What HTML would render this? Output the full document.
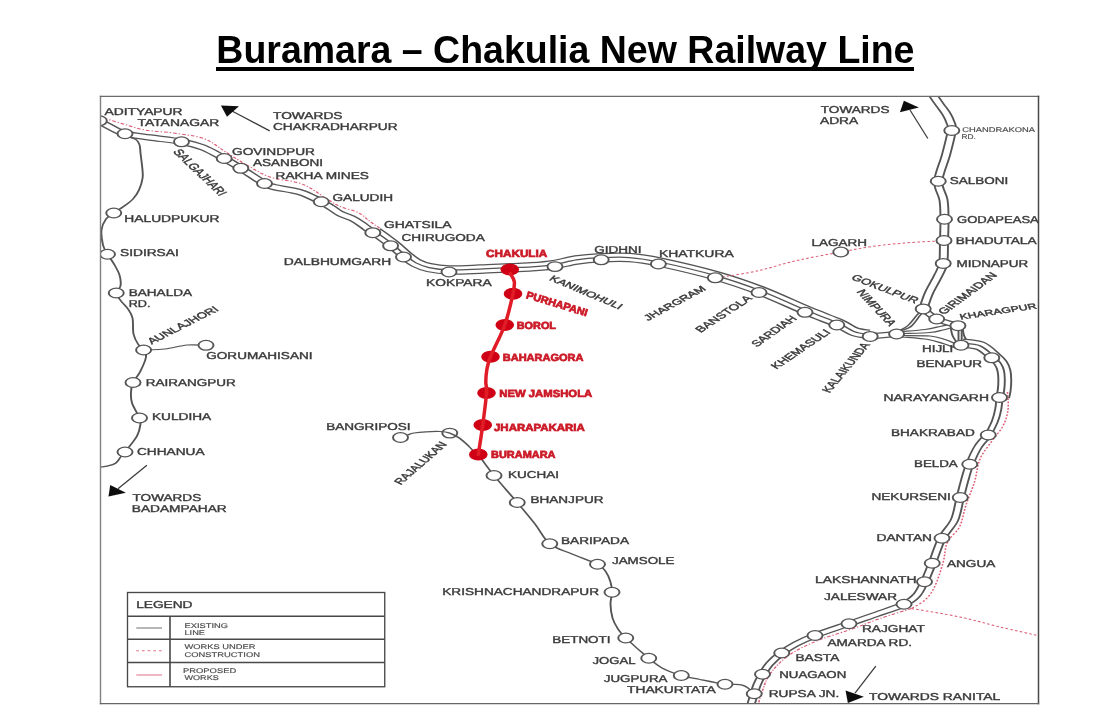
<!DOCTYPE html>
<html><head><meta charset="utf-8"><title>Buramara – Chakulia New Railway Line</title><style>
html,body{margin:0;padding:0;background:#fff;}
body{width:1105px;height:720px;overflow:hidden;position:relative;font-family:"Liberation Sans",Arial,sans-serif;}
#title{position:absolute;left:216.3px;top:27.6px;font-size:37.5px;line-height:42px;font-weight:bold;white-space:nowrap;color:#000;transform:scaleY(1.035);transform-origin:0 0;}
#ul{position:absolute;left:216.2px;top:67.1px;width:697.8px;height:3.9px;background:#000;}
</style></head><body>
<div id="title">Buramara – Chakulia New Railway Line</div>
<div id="ul"></div>
<svg id="map" width="1105" height="720" viewBox="0 0 1105 720" style="position:absolute;left:0;top:0">
<defs><filter id="bl" x="-2%" y="-2%" width="104%" height="104%"><feGaussianBlur stdDeviation="0.7"/></filter><clipPath id="cp"><rect x="100.5" y="96.3" width="938" height="607.4"/></clipPath></defs>
<g filter="url(#bl)">
<g clip-path="url(#cp)">
<g transform="scale(1.55,1)" fill="none" stroke-linejoin="round">
<path d="M67.10,118.50 C67.74,118.75 68.71,119.00 70.97,120.00 C73.23,121.00 76.88,122.83 80.65,124.50 C84.41,126.17 87.90,128.50 93.55,130.00 C99.19,131.50 108.06,132.00 114.52,133.50 C120.97,135.00 127.15,136.00 132.26,139.00 C137.37,142.00 140.86,147.33 145.16,151.50 C149.46,155.67 153.23,159.75 158.06,164.00 C162.90,168.25 168.06,173.67 174.19,177.00 C180.32,180.33 188.71,180.33 194.84,184.00 C200.97,187.67 206.88,195.25 210.97,199.00 C215.05,202.75 216.02,204.25 219.35,206.50 C222.69,208.75 227.74,210.00 230.97,212.50 C234.19,215.00 236.40,218.92 238.71,221.50 C241.02,224.08 243.82,226.92 244.84,228.00" stroke="#dd5a72" stroke-width="1.0" stroke-dasharray="2.4 1.3 0.9 1.3"/>
<path d="M581.03,330.00 C581.83,329.25 584.04,328.00 585.81,325.50 C587.57,323.00 590.22,317.42 591.61,315.00 C593.01,312.58 593.76,311.67 594.19,311.00" stroke="#555555" stroke-width="1.25" />
<path d="M581.68,330.50 C582.69,329.83 585.76,329.00 587.74,326.50 C589.72,324.00 592.26,317.92 593.55,315.50 C594.84,313.08 595.16,312.58 595.48,312.00" stroke="#555555" stroke-width="1.25" />
<path d="M582.32,331.50 C584.73,331.17 592.75,330.33 596.77,329.50 C600.80,328.67 603.55,327.50 606.45,326.50 C609.35,325.50 612.90,324.00 614.19,323.50" stroke="#555555" stroke-width="1.25" />
<path d="M582.97,333.50 C585.81,333.33 595.76,333.08 600.00,332.50 C604.24,331.92 606.02,330.83 608.39,330.00 C610.75,329.17 613.23,327.92 614.19,327.50" stroke="#555555" stroke-width="1.25" />
<path d="M582.97,335.50 C585.81,335.58 595.55,335.33 600.00,336.00 C604.45,336.67 606.99,338.25 609.68,339.50 C612.37,340.75 615.05,342.83 616.13,343.50" stroke="#555555" stroke-width="1.25" />
<path d="M582.32,337.00 C585.05,337.42 594.37,338.42 598.71,339.50 C603.05,340.58 605.59,342.17 608.39,343.50 C611.18,344.83 614.30,346.83 615.48,347.50" stroke="#555555" stroke-width="1.25" />
<path d="M613.42,328.50 C613.60,329.67 613.96,333.33 614.52,335.50 C615.08,337.67 616.40,340.50 616.77,341.50" stroke="#555555" stroke-width="1.25" />
<path d="M618.39,330.00 L618.39,341.00" stroke="#555555" stroke-width="1.25" />
<path d="M620.45,330.00 L620.45,341.00" stroke="#555555" stroke-width="1.25" />
<path d="M242.07,231.34 C243.99,233.53 250.29,240.43 253.60,244.49 C256.91,248.55 259.47,252.64 261.93,255.70 C264.40,258.76 265.91,260.90 268.38,262.88 C270.86,264.85 273.21,266.36 276.78,267.54 C280.35,268.71 284.32,269.67 289.78,269.93 C295.25,270.20 303.05,269.50 309.56,269.13 C316.07,268.77 323.25,268.12 328.83,267.73 C334.40,267.35 338.21,267.37 343.00,266.84 C347.79,266.32 352.79,265.73 357.59,264.59 C362.39,263.44 366.77,261.12 371.80,259.98 C376.82,258.84 382.02,258.14 387.72,257.74 C393.43,257.33 399.76,256.83 406.04,257.54 C412.32,258.26 416.04,258.97 425.42,262.03 C434.80,265.09 451.43,271.12 462.32,275.90 C473.20,280.69 481.04,284.95 490.74,290.72 C500.43,296.50 512.10,305.13 520.48,310.56 C528.86,315.99 535.90,319.77 541.04,323.29 C546.18,326.81 548.14,329.88 551.34,331.70 C554.54,333.52 558.77,333.79 560.25,334.21" stroke="#555555" stroke-width="9.55"/>
<path d="M242.07,231.34 C243.99,233.53 250.29,240.43 253.60,244.49 C256.91,248.55 259.47,252.64 261.93,255.70 C264.40,258.76 265.91,260.90 268.38,262.88 C270.86,264.85 273.21,266.36 276.78,267.54 C280.35,268.71 284.32,269.67 289.78,269.93 C295.25,270.20 303.05,269.50 309.56,269.13 C316.07,268.77 323.25,268.12 328.83,267.73 C334.40,267.35 338.21,267.37 343.00,266.84 C347.79,266.32 352.79,265.73 357.59,264.59 C362.39,263.44 366.77,261.12 371.80,259.98 C376.82,258.84 382.02,258.14 387.72,257.74 C393.43,257.33 399.76,256.83 406.04,257.54 C412.32,258.26 416.04,258.97 425.42,262.03 C434.80,265.09 451.43,271.12 462.32,275.90 C473.20,280.69 481.04,284.95 490.74,290.72 C500.43,296.50 512.10,305.13 520.48,310.56 C528.86,315.99 535.90,319.77 541.04,323.29 C546.18,326.81 548.14,329.88 551.34,331.70 C554.54,333.52 558.77,333.79 560.25,334.21" stroke="#fff" stroke-width="7.050000000000001"/>
<path d="M242.07,231.34 C243.99,233.53 250.29,240.43 253.60,244.49 C256.91,248.55 259.47,252.64 261.93,255.70 C264.40,258.76 265.91,260.90 268.38,262.88 C270.86,264.85 273.21,266.36 276.78,267.54 C280.35,268.71 284.32,269.67 289.78,269.93 C295.25,270.20 303.05,269.50 309.56,269.13 C316.07,268.77 323.25,268.12 328.83,267.73 C334.40,267.35 338.21,267.37 343.00,266.84 C347.79,266.32 352.79,265.73 357.59,264.59 C362.39,263.44 366.77,261.12 371.80,259.98 C376.82,258.84 382.02,258.14 387.72,257.74 C393.43,257.33 399.76,256.83 406.04,257.54 C412.32,258.26 416.04,258.97 425.42,262.03 C434.80,265.09 451.43,271.12 462.32,275.90 C473.20,280.69 481.04,284.95 490.74,290.72 C500.43,296.50 512.10,305.13 520.48,310.56 C528.86,315.99 535.90,319.77 541.04,323.29 C546.18,326.81 548.14,329.88 551.34,331.70 C554.54,333.52 558.77,333.79 560.25,334.21" stroke="#555555" stroke-width="1.25"/>
<path d="M61.94,117.00 C62.29,117.63 62.34,118.97 64.06,120.80 C65.78,122.63 69.49,125.84 72.26,128.00 C75.02,130.16 76.56,132.17 80.65,133.75 C84.73,135.33 90.70,136.16 96.77,137.50 C102.85,138.84 111.40,140.13 117.10,141.80 C122.80,143.47 126.38,144.72 130.97,147.50 C135.56,150.28 140.58,155.03 144.65,158.50 C148.71,161.97 151.02,164.13 155.35,168.30 C159.69,172.47 167.02,180.35 170.65,183.50 C174.27,186.65 174.46,186.15 177.10,187.20 C179.73,188.25 183.33,188.77 186.45,189.80 C189.57,190.83 192.34,191.41 195.81,193.40 C199.27,195.39 204.30,199.40 207.26,201.75 C210.22,204.10 211.53,205.54 213.55,207.50 C215.56,209.46 217.10,211.70 219.35,213.50 C221.61,215.30 224.78,216.52 227.10,218.30 C229.41,220.08 230.99,221.80 233.23,224.20 C235.46,226.60 239.30,231.28 240.52,232.70" stroke="#555555" stroke-width="6.45"/>
<path d="M61.94,117.00 C62.29,117.63 62.34,118.97 64.06,120.80 C65.78,122.63 69.49,125.84 72.26,128.00 C75.02,130.16 76.56,132.17 80.65,133.75 C84.73,135.33 90.70,136.16 96.77,137.50 C102.85,138.84 111.40,140.13 117.10,141.80 C122.80,143.47 126.38,144.72 130.97,147.50 C135.56,150.28 140.58,155.03 144.65,158.50 C148.71,161.97 151.02,164.13 155.35,168.30 C159.69,172.47 167.02,180.35 170.65,183.50 C174.27,186.65 174.46,186.15 177.10,187.20 C179.73,188.25 183.33,188.77 186.45,189.80 C189.57,190.83 192.34,191.41 195.81,193.40 C199.27,195.39 204.30,199.40 207.26,201.75 C210.22,204.10 211.53,205.54 213.55,207.50 C215.56,209.46 217.10,211.70 219.35,213.50 C221.61,215.30 224.78,216.52 227.10,218.30 C229.41,220.08 230.99,221.80 233.23,224.20 C235.46,226.60 239.30,231.28 240.52,232.70" stroke="#fff" stroke-width="3.95"/>
<path d="M561.42,336.40 L578.45,334.00" stroke="#555555" stroke-width="6.25"/>
<path d="M561.42,336.40 L578.45,334.00" stroke="#fff" stroke-width="3.75"/>
<path d="M601.48,94.00 C602.31,95.83 604.96,101.75 606.45,105.00 C607.95,108.25 609.34,110.67 610.45,113.50 C611.56,116.33 612.49,119.17 613.10,122.00 C613.70,124.83 614.53,125.00 614.06,130.50 C613.60,136.00 611.78,146.54 610.32,155.00 C608.87,163.46 605.59,173.75 605.32,181.25 C605.05,188.75 608.04,193.67 608.71,200.00 C609.38,206.33 609.30,212.50 609.35,219.25 C609.41,226.00 609.17,233.14 609.03,240.50 C608.89,247.86 609.16,257.48 608.52,263.40 C607.87,269.32 606.69,271.07 605.16,276.00 C603.63,280.93 600.95,287.52 599.35,293.00 C597.76,298.48 596.24,306.25 595.61,308.90" stroke="#555555" stroke-width="6.45"/>
<path d="M601.48,94.00 C602.31,95.83 604.96,101.75 606.45,105.00 C607.95,108.25 609.34,110.67 610.45,113.50 C611.56,116.33 612.49,119.17 613.10,122.00 C613.70,124.83 614.53,125.00 614.06,130.50 C613.60,136.00 611.78,146.54 610.32,155.00 C608.87,163.46 605.59,173.75 605.32,181.25 C605.05,188.75 608.04,193.67 608.71,200.00 C609.38,206.33 609.30,212.50 609.35,219.25 C609.41,226.00 609.17,233.14 609.03,240.50 C608.89,247.86 609.16,257.48 608.52,263.40 C607.87,269.32 606.69,271.07 605.16,276.00 C603.63,280.93 600.95,287.52 599.35,293.00 C597.76,298.48 596.24,306.25 595.61,308.90" stroke="#fff" stroke-width="3.95"/>
<path d="M595.61,308.90 C597.06,310.58 600.59,316.20 604.32,319.00 C608.05,321.80 615.72,324.58 618.00,325.70" stroke="#555555" stroke-width="5.65"/>
<path d="M595.61,308.90 C597.06,310.58 600.59,316.20 604.32,319.00 C608.05,321.80 615.72,324.58 618.00,325.70" stroke="#fff" stroke-width="3.1500000000000004"/>
<path d="M621.16,329.00 C621.29,330.08 621.43,333.50 621.94,335.50 C622.44,337.50 623.12,339.67 624.19,341.00 C625.27,342.33 627.69,343.08 628.39,343.50" stroke="#555555" stroke-width="1.25" />
<path d="M620.43,343.18 C622.43,343.62 628.88,343.62 632.40,345.85 C635.91,348.08 639.31,353.66 641.52,356.55 C643.73,359.43 644.60,360.81 645.64,363.17 C646.67,365.52 647.29,367.88 647.72,370.69 C648.16,373.49 648.24,376.74 648.26,379.99 C648.29,383.23 648.10,387.20 647.87,390.16 C647.64,393.12 647.05,396.50 646.89,397.76" stroke="#555555" stroke-width="9.55"/>
<path d="M620.43,343.18 C622.43,343.62 628.88,343.62 632.40,345.85 C635.91,348.08 639.31,353.66 641.52,356.55 C643.73,359.43 644.60,360.81 645.64,363.17 C646.67,365.52 647.29,367.88 647.72,370.69 C648.16,373.49 648.24,376.74 648.26,379.99 C648.29,383.23 648.10,387.20 647.87,390.16 C647.64,393.12 647.05,396.50 646.89,397.76" stroke="#fff" stroke-width="7.050000000000001"/>
<path d="M620.43,343.18 C622.43,343.62 628.88,343.62 632.40,345.85 C635.91,348.08 639.31,353.66 641.52,356.55 C643.73,359.43 644.60,360.81 645.64,363.17 C646.67,365.52 647.29,367.88 647.72,370.69 C648.16,373.49 648.24,376.74 648.26,379.99 C648.29,383.23 648.10,387.20 647.87,390.16 C647.64,393.12 647.05,396.50 646.89,397.76" stroke="#555555" stroke-width="1.25"/>
<path d="M644.84,397.50 C644.71,399.42 644.55,405.08 644.06,409.00 C643.58,412.92 643.02,416.67 641.94,421.00 C640.85,425.33 638.31,432.67 637.58,435.00" stroke="#555555" stroke-width="5.15"/>
<path d="M644.84,397.50 C644.71,399.42 644.55,405.08 644.06,409.00 C643.58,412.92 643.02,416.67 641.94,421.00 C640.85,425.33 638.31,432.67 637.58,435.00" stroke="#fff" stroke-width="2.65"/>
<path d="M637.58,435.00 C636.48,437.00 632.96,442.12 630.97,447.00 C628.98,451.88 627.10,458.58 625.65,464.25 C624.19,469.92 623.28,475.46 622.26,481.00 C621.24,486.54 620.59,491.00 619.52,497.50 C618.44,504.00 617.77,513.21 615.81,520.00 C613.84,526.79 610.13,531.04 607.74,538.25 C605.35,545.46 603.33,556.00 601.45,563.25 C599.57,570.50 598.15,576.38 596.45,581.75 C594.76,587.12 593.49,591.75 591.29,595.50 C589.09,599.25 587.58,601.08 583.23,604.25 C578.87,607.42 571.08,611.25 565.16,614.50 C559.25,617.75 554.30,620.25 547.74,623.75 C541.18,627.25 531.51,632.12 525.81,635.50 C520.11,638.88 517.12,641.08 513.55,644.00 C509.97,646.92 507.20,649.67 504.35,653.00 C501.51,656.33 498.52,660.46 496.45,664.00 C494.38,667.54 493.28,670.75 491.94,674.25 C490.59,677.75 489.27,681.75 488.39,685.00 C487.50,688.25 487.31,690.25 486.61,693.75 C485.91,697.25 484.60,703.96 484.19,706.00" stroke="#555555" stroke-width="5.95"/>
<path d="M637.58,435.00 C636.48,437.00 632.96,442.12 630.97,447.00 C628.98,451.88 627.10,458.58 625.65,464.25 C624.19,469.92 623.28,475.46 622.26,481.00 C621.24,486.54 620.59,491.00 619.52,497.50 C618.44,504.00 617.77,513.21 615.81,520.00 C613.84,526.79 610.13,531.04 607.74,538.25 C605.35,545.46 603.33,556.00 601.45,563.25 C599.57,570.50 598.15,576.38 596.45,581.75 C594.76,587.12 593.49,591.75 591.29,595.50 C589.09,599.25 587.58,601.08 583.23,604.25 C578.87,607.42 571.08,611.25 565.16,614.50 C559.25,617.75 554.30,620.25 547.74,623.75 C541.18,627.25 531.51,632.12 525.81,635.50 C520.11,638.88 517.12,641.08 513.55,644.00 C509.97,646.92 507.20,649.67 504.35,653.00 C501.51,656.33 498.52,660.46 496.45,664.00 C494.38,667.54 493.28,670.75 491.94,674.25 C490.59,677.75 489.27,681.75 488.39,685.00 C487.50,688.25 487.31,690.25 486.61,693.75 C485.91,697.25 484.60,703.96 484.19,706.00" stroke="#fff" stroke-width="3.45"/>
<path d="M650.00,392.00 C650.05,395.00 650.81,404.33 650.32,410.00 C649.84,415.67 648.82,420.83 647.10,426.00 C645.38,431.17 642.47,435.50 640.00,441.00 C637.53,446.50 634.14,452.17 632.26,459.00 C630.38,465.83 630.22,474.33 628.71,482.00 C627.20,489.67 624.84,497.50 623.23,505.00 C621.61,512.50 621.02,520.83 619.03,527.00 C617.04,533.17 613.06,536.00 611.29,542.00 C609.52,548.00 609.78,555.50 608.39,563.00 C606.99,570.50 604.84,580.83 602.90,587.00 C600.97,593.17 599.25,596.42 596.77,600.00 C594.30,603.58 589.52,607.08 588.06,608.50" stroke="#dd5a72" stroke-width="1.0" stroke-dasharray="1.7 1.5"/>
<path d="M588.06,608.50 C593.28,609.92 609.84,613.92 619.35,617.00 C628.87,620.08 636.56,623.83 645.16,627.00 C653.76,630.17 666.67,634.50 670.97,636.00" stroke="#dd5a72" stroke-width="1.0" stroke-dasharray="1.7 1.5"/>
<path d="M588.06,608.50 C584.68,610.17 574.14,615.08 567.74,618.50 C561.34,621.92 556.34,625.33 549.68,629.00 C543.01,632.67 534.48,636.17 527.74,640.50 C521.00,644.83 514.39,649.42 509.23,655.00 C504.06,660.58 499.82,667.33 496.77,674.00 C493.73,680.67 492.26,689.67 490.97,695.00 C489.68,700.33 489.35,704.17 489.03,706.00" stroke="#dd5a72" stroke-width="1.0" stroke-dasharray="2.4 1.3 0.9 1.3"/>
<path d="M465.81,277.00 C469.57,276.00 480.32,273.75 488.39,271.00 C496.45,268.25 505.19,263.67 514.19,260.50 C523.20,257.33 534.35,254.33 542.42,252.00 C550.48,249.67 555.67,248.00 562.58,246.50 C569.49,245.00 576.88,243.92 583.87,243.00 C590.86,242.08 601.08,241.33 604.52,241.00" stroke="#dd5a72" stroke-width="1.0" stroke-dasharray="1.7 1.5"/>
<path d="M84.65,137.70 C85.22,138.08 87.16,138.78 88.06,140.00 C88.97,141.22 89.62,142.67 90.06,145.00 C90.51,147.33 90.42,150.17 90.71,154.00 C91.00,157.83 91.59,164.00 91.81,168.00 C92.02,172.00 92.35,174.33 92.00,178.00 C91.65,181.67 90.71,186.50 89.68,190.00 C88.65,193.50 87.31,196.42 85.81,199.00 C84.30,201.58 82.72,203.17 80.65,205.50 C78.58,207.83 74.60,211.75 73.39,213.00" stroke="#555555" stroke-width="1.25" />
<path d="M73.39,213.00 C72.55,214.00 69.70,216.17 68.39,219.00 C67.07,221.83 65.81,225.67 65.48,230.00 C65.16,234.33 65.81,240.96 66.45,245.00 C67.10,249.04 68.17,251.08 69.35,254.25 C70.54,257.42 72.26,260.54 73.55,264.00 C74.84,267.46 76.40,271.33 77.10,275.00 C77.80,278.67 78.09,283.00 77.74,286.00 C77.39,289.00 74.95,290.50 75.00,293.00 C75.05,295.50 76.80,298.33 78.06,301.00 C79.33,303.67 81.34,306.17 82.58,309.00 C83.82,311.83 84.89,313.83 85.48,318.00 C86.08,322.17 85.54,329.67 86.13,334.00 C86.72,338.33 87.95,341.33 89.03,344.00 C90.12,346.67 92.04,349.00 92.65,350.00" stroke="#555555" stroke-width="1.25" />
<path d="M92.65,350.00 C94.95,349.83 101.78,349.83 106.45,349.00 C111.12,348.17 116.24,345.62 120.65,345.00 C125.05,344.38 130.86,345.25 132.90,345.30" stroke="#555555" stroke-width="1.25" />
<path d="M92.65,350.00 C92.90,351.17 94.58,353.33 94.19,357.00 C93.81,360.67 91.72,367.75 90.32,372.00 C88.92,376.25 86.77,379.17 85.81,382.50 C84.84,385.83 84.62,388.58 84.52,392.00 C84.41,395.42 84.25,398.67 85.16,403.00 C86.08,407.33 89.09,414.50 90.00,418.00 C90.91,421.50 90.91,421.00 90.65,424.00 C90.38,427.00 90.05,431.33 88.39,436.00 C86.72,440.67 82.37,448.58 80.65,452.00 C78.92,455.42 79.08,454.63 78.06,456.50 C77.05,458.37 76.11,461.58 74.58,463.20 C73.05,464.82 70.69,465.52 68.90,466.20 C67.12,466.88 64.71,467.12 63.87,467.30" stroke="#555555" stroke-width="1.25" />
<path d="M308.58,454.50 C310.27,458.00 314.52,467.50 318.71,475.50 C322.90,483.50 329.30,494.42 333.71,502.50 C338.12,510.58 341.67,517.12 345.16,524.00 C348.66,530.88 350.70,538.75 354.68,543.75 C358.66,548.75 363.90,550.58 369.03,554.00 C374.17,557.42 381.83,561.25 385.48,564.25 C389.14,567.25 389.57,569.04 390.97,572.00 C392.37,574.96 393.23,578.62 393.87,582.00 C394.52,585.38 394.84,588.58 394.84,592.25 C394.84,595.92 393.82,599.71 393.87,604.00 C393.92,608.29 394.35,613.83 395.16,618.00 C395.97,622.17 397.28,625.67 398.71,629.00 C400.13,632.33 400.40,633.12 403.71,638.00 C407.02,642.88 414.54,653.17 418.55,658.25 C422.55,663.33 424.25,665.62 427.74,668.50 C431.24,671.38 435.54,673.67 439.52,675.50 C443.49,677.33 446.91,678.04 451.61,679.50 C456.32,680.96 464.19,683.43 467.74,684.25 C471.29,685.07 471.05,684.26 472.90,684.40 C474.75,684.54 477.25,684.53 478.84,685.10 C480.43,685.67 481.16,686.36 482.45,687.80 C483.75,689.24 485.92,692.76 486.61,693.75" stroke="#555555" stroke-width="1.25" />
<circle cx="64.06" cy="120.8" r="4.85" fill="#fff" stroke="#555555" stroke-width="1.25"/>
<circle cx="80.65" cy="133.75" r="4.85" fill="#fff" stroke="#555555" stroke-width="1.25"/>
<circle cx="117.10" cy="141.8" r="4.85" fill="#fff" stroke="#555555" stroke-width="1.25"/>
<circle cx="144.65" cy="158.5" r="4.85" fill="#fff" stroke="#555555" stroke-width="1.25"/>
<circle cx="155.35" cy="168.3" r="4.85" fill="#fff" stroke="#555555" stroke-width="1.25"/>
<circle cx="170.65" cy="183.5" r="4.85" fill="#fff" stroke="#555555" stroke-width="1.25"/>
<circle cx="207.26" cy="201.75" r="4.85" fill="#fff" stroke="#555555" stroke-width="1.25"/>
<circle cx="240.52" cy="232.7" r="4.85" fill="#fff" stroke="#555555" stroke-width="1.25"/>
<circle cx="252.00" cy="245.8" r="4.85" fill="#fff" stroke="#555555" stroke-width="1.25"/>
<circle cx="260.32" cy="257" r="4.85" fill="#fff" stroke="#555555" stroke-width="1.25"/>
<circle cx="289.68" cy="272" r="4.85" fill="#fff" stroke="#555555" stroke-width="1.25"/>
<circle cx="358.06" cy="266.6" r="4.85" fill="#fff" stroke="#555555" stroke-width="1.25"/>
<circle cx="387.87" cy="259.8" r="4.85" fill="#fff" stroke="#555555" stroke-width="1.25"/>
<circle cx="424.77" cy="264" r="4.85" fill="#fff" stroke="#555555" stroke-width="1.25"/>
<circle cx="461.48" cy="277.8" r="4.85" fill="#fff" stroke="#555555" stroke-width="1.25"/>
<circle cx="489.68" cy="292.5" r="4.85" fill="#fff" stroke="#555555" stroke-width="1.25"/>
<circle cx="519.35" cy="312.3" r="4.85" fill="#fff" stroke="#555555" stroke-width="1.25"/>
<circle cx="539.87" cy="325" r="4.85" fill="#fff" stroke="#555555" stroke-width="1.25"/>
<circle cx="561.42" cy="336.4" r="4.85" fill="#fff" stroke="#555555" stroke-width="1.25"/>
<circle cx="578.45" cy="334" r="4.85" fill="#fff" stroke="#555555" stroke-width="1.25"/>
<circle cx="595.61" cy="308.9" r="4.85" fill="#fff" stroke="#555555" stroke-width="1.25"/>
<circle cx="604.32" cy="319" r="4.85" fill="#fff" stroke="#555555" stroke-width="1.25"/>
<circle cx="618.00" cy="325.7" r="4.85" fill="#fff" stroke="#555555" stroke-width="1.25"/>
<circle cx="620.00" cy="345.2" r="4.85" fill="#fff" stroke="#555555" stroke-width="1.25"/>
<circle cx="639.87" cy="357.8" r="4.85" fill="#fff" stroke="#555555" stroke-width="1.25"/>
<circle cx="644.84" cy="397.5" r="4.85" fill="#fff" stroke="#555555" stroke-width="1.25"/>
<circle cx="637.58" cy="435" r="4.85" fill="#fff" stroke="#555555" stroke-width="1.25"/>
<circle cx="625.65" cy="464.25" r="4.85" fill="#fff" stroke="#555555" stroke-width="1.25"/>
<circle cx="619.52" cy="497.5" r="4.85" fill="#fff" stroke="#555555" stroke-width="1.25"/>
<circle cx="607.74" cy="538.25" r="4.85" fill="#fff" stroke="#555555" stroke-width="1.25"/>
<circle cx="601.45" cy="563.25" r="4.85" fill="#fff" stroke="#555555" stroke-width="1.25"/>
<circle cx="596.45" cy="581.75" r="4.85" fill="#fff" stroke="#555555" stroke-width="1.25"/>
<circle cx="583.23" cy="604.25" r="4.85" fill="#fff" stroke="#555555" stroke-width="1.25"/>
<circle cx="547.74" cy="623.75" r="4.85" fill="#fff" stroke="#555555" stroke-width="1.25"/>
<circle cx="525.81" cy="635.5" r="4.85" fill="#fff" stroke="#555555" stroke-width="1.25"/>
<circle cx="504.35" cy="653" r="4.85" fill="#fff" stroke="#555555" stroke-width="1.25"/>
<circle cx="491.94" cy="674.25" r="4.85" fill="#fff" stroke="#555555" stroke-width="1.25"/>
<circle cx="486.61" cy="693.75" r="4.85" fill="#fff" stroke="#555555" stroke-width="1.25"/>
<circle cx="614.06" cy="130.5" r="4.85" fill="#fff" stroke="#555555" stroke-width="1.25"/>
<circle cx="605.32" cy="181.25" r="4.85" fill="#fff" stroke="#555555" stroke-width="1.25"/>
<circle cx="609.35" cy="219.25" r="4.85" fill="#fff" stroke="#555555" stroke-width="1.25"/>
<circle cx="609.03" cy="240.5" r="4.85" fill="#fff" stroke="#555555" stroke-width="1.25"/>
<circle cx="608.52" cy="263.4" r="4.85" fill="#fff" stroke="#555555" stroke-width="1.25"/>
<circle cx="542.42" cy="252" r="4.85" fill="#fff" stroke="#555555" stroke-width="1.25"/>
<circle cx="73.39" cy="213" r="4.85" fill="#fff" stroke="#555555" stroke-width="1.25"/>
<circle cx="69.35" cy="254.25" r="4.85" fill="#fff" stroke="#555555" stroke-width="1.25"/>
<circle cx="75.00" cy="293" r="4.85" fill="#fff" stroke="#555555" stroke-width="1.25"/>
<circle cx="92.65" cy="350" r="4.85" fill="#fff" stroke="#555555" stroke-width="1.25"/>
<circle cx="132.90" cy="345.3" r="4.85" fill="#fff" stroke="#555555" stroke-width="1.25"/>
<circle cx="85.81" cy="382.5" r="4.85" fill="#fff" stroke="#555555" stroke-width="1.25"/>
<circle cx="90.00" cy="418" r="4.85" fill="#fff" stroke="#555555" stroke-width="1.25"/>
<circle cx="80.65" cy="452" r="4.85" fill="#fff" stroke="#555555" stroke-width="1.25"/>
<circle cx="258.39" cy="437.5" r="4.85" fill="#fff" stroke="#555555" stroke-width="1.25"/>
<circle cx="318.71" cy="475.5" r="4.85" fill="#fff" stroke="#555555" stroke-width="1.25"/>
<circle cx="333.71" cy="502.5" r="4.85" fill="#fff" stroke="#555555" stroke-width="1.25"/>
<circle cx="354.68" cy="543.75" r="4.85" fill="#fff" stroke="#555555" stroke-width="1.25"/>
<circle cx="385.48" cy="564.25" r="4.85" fill="#fff" stroke="#555555" stroke-width="1.25"/>
<circle cx="394.84" cy="592.25" r="4.85" fill="#fff" stroke="#555555" stroke-width="1.25"/>
<circle cx="403.71" cy="638" r="4.85" fill="#fff" stroke="#555555" stroke-width="1.25"/>
<circle cx="418.55" cy="658.25" r="4.85" fill="#fff" stroke="#555555" stroke-width="1.25"/>
<circle cx="439.52" cy="675.5" r="4.85" fill="#fff" stroke="#555555" stroke-width="1.25"/>
<circle cx="467.74" cy="684.25" r="4.85" fill="#fff" stroke="#555555" stroke-width="1.25"/>
<circle cx="290.19" cy="433.1" r="4.85" fill="#fff" stroke="#555555" stroke-width="1.25"/>
<path d="M262.90,435.00 C263.60,434.67 265.11,433.53 267.10,433.00 C269.09,432.47 272.04,432.05 274.84,431.80 C277.63,431.55 281.31,431.28 283.87,431.50 C286.43,431.72 288.04,431.93 290.19,433.10 C292.34,434.27 294.71,436.27 296.77,438.50 C298.84,440.73 300.86,443.92 302.58,446.50 C304.30,449.08 306.34,452.75 307.10,454.00" stroke="#555555" stroke-width="1.25" />
</g>
</g>
<path d="M100.5,95.7 V704.3" stroke="#808080" stroke-width="1.4" fill="none"/>
<path d="M99.8,96.3 H1039.2" stroke="#6a6a6a" stroke-width="1.3" fill="none"/>
<path d="M1038.5,95.7 V704.3" stroke="#484848" stroke-width="1.5" fill="none"/>
<path d="M99.8,703.7 H1039.2" stroke="#666" stroke-width="1.25" fill="none"/>
<path d="M269.7,130.9 L232,111" stroke="#3a3a3a" stroke-width="1.25" fill="none"/>
<polygon points="220.9,105.6 239,106.3 227,116.8" fill="#111"/>
<path d="M927.8,138.5 L910,110" stroke="#3a3a3a" stroke-width="1.25" fill="none"/>
<polygon points="903.9,100.8 918.9,107.6 899.9,112.3" fill="#111"/>
<path d="M146.9,465.2 L118,488.7" stroke="#3a3a3a" stroke-width="1.25" fill="none"/>
<polygon points="110.2,484.9 125.9,492.8 108.5,496.5" fill="#111"/>
<path d="M875.8,666.1 L855,693.2" stroke="#3a3a3a" stroke-width="1.25" fill="none"/>
<polygon points="845.5,690.6 863.9,696.7 847.9,702.9" fill="#111"/>
<g stroke="#484848" stroke-width="1.35" fill="none">
<rect x="127.5" y="592.5" width="257.25" height="94.25"/>
<path d="M127.5,616.25 H384.75"/>
<path d="M127.5,639.25 H384.75"/>
<path d="M127.5,662.5 H384.75"/>
<path d="M170,616.25 V686.75" stroke-width="1.6"/>
</g>
<path d="M136.25,628 H162" stroke="#606060" stroke-width="0.9"/>
<path d="M136.25,650.75 H162" stroke="#dd5a72" stroke-width="0.9" stroke-dasharray="2.6 3.1"/>
<path d="M136.25,675 H162" stroke="#dc6078" stroke-width="0.9"/>
<g text-rendering="geometricPrecision" font-family="'Liberation Sans',Arial,sans-serif" clip-path="url(#cp)">
<text x="104.5" y="115" font-size="10.0" fill="#3a3a3a" font-weight="normal" textLength="78.00" lengthAdjust="spacingAndGlyphs" stroke="#3a3a3a" stroke-width="0.38" paint-order="stroke">ADITYAPUR</text>
<text x="137.5" y="126.25" font-size="10.0" fill="#3a3a3a" font-weight="normal" textLength="81.75" lengthAdjust="spacingAndGlyphs" stroke="#3a3a3a" stroke-width="0.38" paint-order="stroke">TATANAGAR</text>
<text x="273" y="118.75" font-size="10.0" fill="#3a3a3a" font-weight="normal" textLength="69.50" lengthAdjust="spacingAndGlyphs" stroke="#3a3a3a" stroke-width="0.38" paint-order="stroke">TOWARDS</text>
<text x="273" y="129.75" font-size="10.0" fill="#3a3a3a" font-weight="normal" textLength="124.50" lengthAdjust="spacingAndGlyphs" stroke="#3a3a3a" stroke-width="0.38" paint-order="stroke">CHAKRADHARPUR</text>
<text x="232" y="154.5" font-size="10.0" fill="#3a3a3a" font-weight="normal" textLength="83.00" lengthAdjust="spacingAndGlyphs" stroke="#3a3a3a" stroke-width="0.38" paint-order="stroke">GOVINDPUR</text>
<text x="253" y="165.5" font-size="10.0" fill="#3a3a3a" font-weight="normal" textLength="70.00" lengthAdjust="spacingAndGlyphs" stroke="#3a3a3a" stroke-width="0.38" paint-order="stroke">ASANBONI</text>
<text x="275.5" y="179" font-size="10.0" fill="#3a3a3a" font-weight="normal" textLength="93.50" lengthAdjust="spacingAndGlyphs" stroke="#3a3a3a" stroke-width="0.38" paint-order="stroke">RAKHA MINES</text>
<text x="332.5" y="200.5" font-size="10.0" fill="#3a3a3a" font-weight="normal" textLength="60.50" lengthAdjust="spacingAndGlyphs" stroke="#3a3a3a" stroke-width="0.38" paint-order="stroke">GALUDIH</text>
<text x="384" y="228" font-size="10.0" fill="#3a3a3a" font-weight="normal" textLength="67.50" lengthAdjust="spacingAndGlyphs" stroke="#3a3a3a" stroke-width="0.38" paint-order="stroke">GHATSILA</text>
<text x="401.5" y="241.25" font-size="10.0" fill="#3a3a3a" font-weight="normal" textLength="83.25" lengthAdjust="spacingAndGlyphs" stroke="#3a3a3a" stroke-width="0.38" paint-order="stroke">CHIRUGODA</text>
<text x="283.8" y="264.5" font-size="10.0" fill="#3a3a3a" font-weight="normal" textLength="107.50" lengthAdjust="spacingAndGlyphs" stroke="#3a3a3a" stroke-width="0.38" paint-order="stroke">DALBHUMGARH</text>
<text x="426" y="285.5" font-size="10.0" fill="#3a3a3a" font-weight="normal" textLength="65.75" lengthAdjust="spacingAndGlyphs" stroke="#3a3a3a" stroke-width="0.38" paint-order="stroke">KOKPARA</text>
<text x="594.25" y="253" font-size="10.0" fill="#3a3a3a" font-weight="normal" textLength="47.25" lengthAdjust="spacingAndGlyphs" stroke="#3a3a3a" stroke-width="0.38" paint-order="stroke">GIDHNI</text>
<text x="659" y="257" font-size="10.0" fill="#3a3a3a" font-weight="normal" textLength="74.75" lengthAdjust="spacingAndGlyphs" stroke="#3a3a3a" stroke-width="0.38" paint-order="stroke">KHATKURA</text>
<text x="811.5" y="245.5" font-size="10.0" fill="#3a3a3a" font-weight="normal" textLength="55.50" lengthAdjust="spacingAndGlyphs" stroke="#3a3a3a" stroke-width="0.38" paint-order="stroke">LAGARH</text>
<text x="820.75" y="113" font-size="10.0" fill="#3a3a3a" font-weight="normal" textLength="68.75" lengthAdjust="spacingAndGlyphs" stroke="#3a3a3a" stroke-width="0.38" paint-order="stroke">TOWARDS</text>
<text x="820" y="123.75" font-size="10.0" fill="#3a3a3a" font-weight="normal" textLength="38.25" lengthAdjust="spacingAndGlyphs" stroke="#3a3a3a" stroke-width="0.38" paint-order="stroke">ADRA</text>
<text x="949.75" y="183.75" font-size="10.0" fill="#3a3a3a" font-weight="normal" textLength="58.50" lengthAdjust="spacingAndGlyphs" stroke="#3a3a3a" stroke-width="0.38" paint-order="stroke">SALBONI</text>
<text x="957" y="223" font-size="10.0" fill="#3a3a3a" font-weight="normal" textLength="89.00" lengthAdjust="spacingAndGlyphs" stroke="#3a3a3a" stroke-width="0.38" paint-order="stroke">GODAPEASAL</text>
<text x="955.75" y="243.75" font-size="10.0" fill="#3a3a3a" font-weight="normal" textLength="80.75" lengthAdjust="spacingAndGlyphs" stroke="#3a3a3a" stroke-width="0.38" paint-order="stroke">BHADUTALA</text>
<text x="956.5" y="267" font-size="10.0" fill="#3a3a3a" font-weight="normal" textLength="71.75" lengthAdjust="spacingAndGlyphs" stroke="#3a3a3a" stroke-width="0.38" paint-order="stroke">MIDNAPUR</text>
<text x="124.3" y="222" font-size="10.0" fill="#3a3a3a" font-weight="normal" textLength="95.10" lengthAdjust="spacingAndGlyphs" stroke="#3a3a3a" stroke-width="0.38" paint-order="stroke">HALUDPUKUR</text>
<text x="120" y="256.25" font-size="10.0" fill="#3a3a3a" font-weight="normal" textLength="58.75" lengthAdjust="spacingAndGlyphs" stroke="#3a3a3a" stroke-width="0.38" paint-order="stroke">SIDIRSAI</text>
<text x="128.75" y="295.5" font-size="10.0" fill="#3a3a3a" font-weight="normal" textLength="63.25" lengthAdjust="spacingAndGlyphs" stroke="#3a3a3a" stroke-width="0.38" paint-order="stroke">BAHALDA</text>
<text x="128.75" y="307" font-size="10.0" fill="#3a3a3a" font-weight="normal" textLength="21.75" lengthAdjust="spacingAndGlyphs" stroke="#3a3a3a" stroke-width="0.38" paint-order="stroke">RD.</text>
<text x="206.25" y="358.75" font-size="10.0" fill="#3a3a3a" font-weight="normal" textLength="106.25" lengthAdjust="spacingAndGlyphs" stroke="#3a3a3a" stroke-width="0.38" paint-order="stroke">GORUMAHISANI</text>
<text x="145.75" y="385.5" font-size="10.0" fill="#3a3a3a" font-weight="normal" textLength="90.00" lengthAdjust="spacingAndGlyphs" stroke="#3a3a3a" stroke-width="0.38" paint-order="stroke">RAIRANGPUR</text>
<text x="152" y="419.5" font-size="10.0" fill="#3a3a3a" font-weight="normal" textLength="59.25" lengthAdjust="spacingAndGlyphs" stroke="#3a3a3a" stroke-width="0.38" paint-order="stroke">KULDIHA</text>
<text x="137" y="455" font-size="10.0" fill="#3a3a3a" font-weight="normal" textLength="67.50" lengthAdjust="spacingAndGlyphs" stroke="#3a3a3a" stroke-width="0.38" paint-order="stroke">CHHANUA</text>
<text x="132.5" y="500.75" font-size="10.0" fill="#3a3a3a" font-weight="normal" textLength="68.75" lengthAdjust="spacingAndGlyphs" stroke="#3a3a3a" stroke-width="0.38" paint-order="stroke">TOWARDS</text>
<text x="131.75" y="511.75" font-size="10.0" fill="#3a3a3a" font-weight="normal" textLength="95.00" lengthAdjust="spacingAndGlyphs" stroke="#3a3a3a" stroke-width="0.38" paint-order="stroke">BADAMPAHAR</text>
<text x="326.25" y="429.5" font-size="10.0" fill="#3a3a3a" font-weight="normal" textLength="84.25" lengthAdjust="spacingAndGlyphs" stroke="#3a3a3a" stroke-width="0.38" paint-order="stroke">BANGRIPOSI</text>
<text x="508" y="477.5" font-size="10.0" fill="#3a3a3a" font-weight="normal" textLength="51.00" lengthAdjust="spacingAndGlyphs" stroke="#3a3a3a" stroke-width="0.38" paint-order="stroke">KUCHAI</text>
<text x="530.5" y="503" font-size="10.0" fill="#3a3a3a" font-weight="normal" textLength="73.00" lengthAdjust="spacingAndGlyphs" stroke="#3a3a3a" stroke-width="0.38" paint-order="stroke">BHANJPUR</text>
<text x="561" y="543.75" font-size="10.0" fill="#3a3a3a" font-weight="normal" textLength="68.00" lengthAdjust="spacingAndGlyphs" stroke="#3a3a3a" stroke-width="0.38" paint-order="stroke">BARIPADA</text>
<text x="612" y="564.25" font-size="10.0" fill="#3a3a3a" font-weight="normal" textLength="62.50" lengthAdjust="spacingAndGlyphs" stroke="#3a3a3a" stroke-width="0.38" paint-order="stroke">JAMSOLE</text>
<text x="442.25" y="595" font-size="10.0" fill="#3a3a3a" font-weight="normal" textLength="156.75" lengthAdjust="spacingAndGlyphs" stroke="#3a3a3a" stroke-width="0.38" paint-order="stroke">KRISHNACHANDRAPUR</text>
<text x="552.25" y="642.5" font-size="10.0" fill="#3a3a3a" font-weight="normal" textLength="58.25" lengthAdjust="spacingAndGlyphs" stroke="#3a3a3a" stroke-width="0.38" paint-order="stroke">BETNOTI</text>
<text x="592.5" y="664.25" font-size="10.0" fill="#3a3a3a" font-weight="normal" textLength="43.00" lengthAdjust="spacingAndGlyphs" stroke="#3a3a3a" stroke-width="0.38" paint-order="stroke">JOGAL</text>
<text x="603.75" y="682" font-size="10.0" fill="#3a3a3a" font-weight="normal" textLength="63.75" lengthAdjust="spacingAndGlyphs" stroke="#3a3a3a" stroke-width="0.38" paint-order="stroke">JUGPURA</text>
<text x="627" y="693.25" font-size="10.0" fill="#3a3a3a" font-weight="normal" textLength="88.75" lengthAdjust="spacingAndGlyphs" stroke="#3a3a3a" stroke-width="0.38" paint-order="stroke">THAKURTATA</text>
<text x="768.75" y="696.75" font-size="10.0" fill="#3a3a3a" font-weight="normal" textLength="70.50" lengthAdjust="spacingAndGlyphs" stroke="#3a3a3a" stroke-width="0.38" paint-order="stroke">RUPSA JN.</text>
<text x="779.25" y="677.5" font-size="10.0" fill="#3a3a3a" font-weight="normal" textLength="67.00" lengthAdjust="spacingAndGlyphs" stroke="#3a3a3a" stroke-width="0.38" paint-order="stroke">NUAGAON</text>
<text x="795.5" y="660.5" font-size="10.0" fill="#3a3a3a" font-weight="normal" textLength="43.75" lengthAdjust="spacingAndGlyphs" stroke="#3a3a3a" stroke-width="0.38" paint-order="stroke">BASTA</text>
<text x="827.5" y="646.25" font-size="10.0" fill="#3a3a3a" font-weight="normal" textLength="84.50" lengthAdjust="spacingAndGlyphs" stroke="#3a3a3a" stroke-width="0.38" paint-order="stroke">AMARDA RD.</text>
<text x="862" y="631.75" font-size="10.0" fill="#3a3a3a" font-weight="normal" textLength="62.75" lengthAdjust="spacingAndGlyphs" stroke="#3a3a3a" stroke-width="0.38" paint-order="stroke">RAJGHAT</text>
<text x="824" y="599.5" font-size="10.0" fill="#3a3a3a" font-weight="normal" textLength="73.00" lengthAdjust="spacingAndGlyphs" stroke="#3a3a3a" stroke-width="0.38" paint-order="stroke">JALESWAR</text>
<text x="815" y="582.5" font-size="10.0" fill="#3a3a3a" font-weight="normal" textLength="101.50" lengthAdjust="spacingAndGlyphs" stroke="#3a3a3a" stroke-width="0.38" paint-order="stroke">LAKSHANNATH</text>
<text x="947" y="566.75" font-size="10.0" fill="#3a3a3a" font-weight="normal" textLength="48.25" lengthAdjust="spacingAndGlyphs" stroke="#3a3a3a" stroke-width="0.38" paint-order="stroke">ANGUA</text>
<text x="876.5" y="540.75" font-size="10.0" fill="#3a3a3a" font-weight="normal" textLength="55.50" lengthAdjust="spacingAndGlyphs" stroke="#3a3a3a" stroke-width="0.38" paint-order="stroke">DANTAN</text>
<text x="871.5" y="500" font-size="10.0" fill="#3a3a3a" font-weight="normal" textLength="79.25" lengthAdjust="spacingAndGlyphs" stroke="#3a3a3a" stroke-width="0.38" paint-order="stroke">NEKURSENI</text>
<text x="914" y="466.75" font-size="10.0" fill="#3a3a3a" font-weight="normal" textLength="43.75" lengthAdjust="spacingAndGlyphs" stroke="#3a3a3a" stroke-width="0.38" paint-order="stroke">BELDA</text>
<text x="891" y="435.75" font-size="10.0" fill="#3a3a3a" font-weight="normal" textLength="83.75" lengthAdjust="spacingAndGlyphs" stroke="#3a3a3a" stroke-width="0.38" paint-order="stroke">BHAKRABAD</text>
<text x="883.5" y="400.5" font-size="10.0" fill="#3a3a3a" font-weight="normal" textLength="105.50" lengthAdjust="spacingAndGlyphs" stroke="#3a3a3a" stroke-width="0.38" paint-order="stroke">NARAYANGARH</text>
<text x="916.5" y="367" font-size="10.0" fill="#3a3a3a" font-weight="normal" textLength="65.50" lengthAdjust="spacingAndGlyphs" stroke="#3a3a3a" stroke-width="0.38" paint-order="stroke">BENAPUR</text>
<text x="922" y="352" font-size="10.0" fill="#3a3a3a" font-weight="normal" textLength="31.25" lengthAdjust="spacingAndGlyphs" stroke="#3a3a3a" stroke-width="0.38" paint-order="stroke">HIJLI</text>
<text x="869" y="700" font-size="10.0" fill="#3a3a3a" font-weight="normal" textLength="131.25" lengthAdjust="spacingAndGlyphs" stroke="#3a3a3a" stroke-width="0.38" paint-order="stroke">TOWARDS RANITAL</text>
<text x="136.25" y="608" font-size="10.0" fill="#3a3a3a" font-weight="normal" textLength="56.25" lengthAdjust="spacingAndGlyphs" stroke="#3a3a3a" stroke-width="0.38" paint-order="stroke">LEGEND</text>
<text x="962.3" y="132.1" font-size="6.8" fill="#4a4a4a" font-weight="normal" textLength="72.70" lengthAdjust="spacingAndGlyphs" stroke="#4a4a4a" stroke-width="0.15" paint-order="stroke">CHANDRAKONA</text>
<text x="961.4" y="138.9" font-size="6.8" fill="#4a4a4a" font-weight="normal" textLength="14.40" lengthAdjust="spacingAndGlyphs" stroke="#4a4a4a" stroke-width="0.15" paint-order="stroke">RD.</text>
<text x="184.5" y="627.5" font-size="6.8" fill="#4a4a4a" font-weight="normal" textLength="43.50" lengthAdjust="spacingAndGlyphs" stroke="#4a4a4a" stroke-width="0.15" paint-order="stroke">EXISTING</text>
<text x="184.5" y="635" font-size="6.8" fill="#4a4a4a" font-weight="normal" textLength="20.50" lengthAdjust="spacingAndGlyphs" stroke="#4a4a4a" stroke-width="0.15" paint-order="stroke">LINE</text>
<text x="184.5" y="649.25" font-size="6.8" fill="#4a4a4a" font-weight="normal" textLength="71.00" lengthAdjust="spacingAndGlyphs" stroke="#4a4a4a" stroke-width="0.15" paint-order="stroke">WORKS UNDER</text>
<text x="184.5" y="656.75" font-size="6.8" fill="#4a4a4a" font-weight="normal" textLength="75.50" lengthAdjust="spacingAndGlyphs" stroke="#4a4a4a" stroke-width="0.15" paint-order="stroke">CONSTRUCTION</text>
<text x="183" y="673" font-size="6.8" fill="#4a4a4a" font-weight="normal" textLength="53.25" lengthAdjust="spacingAndGlyphs" stroke="#4a4a4a" stroke-width="0.15" paint-order="stroke">PROPOSED</text>
<text x="184.5" y="680" font-size="6.8" fill="#4a4a4a" font-weight="normal" textLength="34.25" lengthAdjust="spacingAndGlyphs" stroke="#4a4a4a" stroke-width="0.15" paint-order="stroke">WORKS</text>
<text transform="translate(172.6,151.8) scale(1.55,1) rotate(55.79) scale(0.965,1)" x="0" y="0" font-size="9.0" fill="#3a3a3a" stroke="#3a3a3a" stroke-width="0.38" paint-order="stroke">SALGAJHARI</text>
<text transform="translate(151.7,344.6) scale(1.55,1) rotate(-38.14) scale(1.034,1)" x="0" y="0" font-size="8.5" fill="#3a3a3a" stroke="#3a3a3a" stroke-width="0.38" paint-order="stroke">AUNLAJHORI</text>
<text transform="translate(548.6,279.7) scale(1.55,1) rotate(33.28) scale(1.094,1)" x="0" y="0" font-size="8.0" fill="#3a3a3a" stroke="#3a3a3a" stroke-width="0.38" paint-order="stroke">KANIMOHULI</text>
<text transform="translate(648.1,321) scale(1.55,1) rotate(-39.75) scale(1.097,1)" x="0" y="0" font-size="8.0" fill="#3a3a3a" stroke="#3a3a3a" stroke-width="0.38" paint-order="stroke">JHARGRAM</text>
<text transform="translate(700.8,333) scale(1.55,1) rotate(-45.50) scale(1.061,1)" x="0" y="0" font-size="8.5" fill="#3a3a3a" stroke="#3a3a3a" stroke-width="0.38" paint-order="stroke">BANSTOLA</text>
<text transform="translate(757,347.3) scale(1.55,1) rotate(-47.49) scale(1.023,1)" x="0" y="0" font-size="8.5" fill="#3a3a3a" stroke="#3a3a3a" stroke-width="0.38" paint-order="stroke">SARDIAH</text>
<text transform="translate(776.6,369.5) scale(1.55,1) rotate(-46.30) scale(1.036,1)" x="0" y="0" font-size="8.5" fill="#3a3a3a" stroke="#3a3a3a" stroke-width="0.38" paint-order="stroke">KHEMASULI</text>
<text transform="translate(829.5,393.3) scale(1.55,1) rotate(-61.72) scale(1.029,1)" x="0" y="0" font-size="8.5" fill="#3a3a3a" stroke="#3a3a3a" stroke-width="0.38" paint-order="stroke">KALAIKUNDA</text>
<text transform="translate(850.5,279.1) scale(1.55,1) rotate(30.61) scale(1.017,1)" x="0" y="0" font-size="8.5" fill="#3a3a3a" stroke="#3a3a3a" stroke-width="0.38" paint-order="stroke">GOKULPUR</text>
<text transform="translate(856.2,291.8) scale(1.55,1) rotate(58.54) scale(1.041,1)" x="0" y="0" font-size="8.5" fill="#3a3a3a" stroke="#3a3a3a" stroke-width="0.38" paint-order="stroke">NIMPURA</text>
<text transform="translate(944.1,315.1) scale(1.55,1) rotate(-48.87) scale(1.040,1)" x="0" y="0" font-size="8.5" fill="#3a3a3a" stroke="#3a3a3a" stroke-width="0.38" paint-order="stroke">GIRIMAIDAN</text>
<text transform="translate(960.7,319.8) scale(1.55,1) rotate(-12.99) scale(1.001,1)" x="0" y="0" font-size="8.0" fill="#3a3a3a" stroke="#3a3a3a" stroke-width="0.38" paint-order="stroke">KHARAGPUR</text>
<text transform="translate(400.8,485.2) scale(1.55,1) rotate(-53.55) scale(1.011,1)" x="0" y="0" font-size="8.5" fill="#3a3a3a" stroke="#3a3a3a" stroke-width="0.38" paint-order="stroke">RAJALUKAN</text>
</g>
<ellipse cx="509.8" cy="269.5" rx="9.3" ry="5.9" fill="#cf0612"/>
<ellipse cx="513" cy="293.75" rx="9.3" ry="5.9" fill="#cf0612"/>
<ellipse cx="504.75" cy="325" rx="9.3" ry="5.9" fill="#cf0612"/>
<ellipse cx="490.5" cy="356.75" rx="9.3" ry="5.9" fill="#cf0612"/>
<ellipse cx="486.5" cy="393" rx="9.3" ry="5.9" fill="#cf0612"/>
<ellipse cx="482.75" cy="425" rx="9.3" ry="5.9" fill="#cf0612"/>
<ellipse cx="478.3" cy="454.5" rx="9.3" ry="5.9" fill="#cf0612"/>
<path d="M510.30,273.50 C510.97,274.83 513.85,278.12 514.30,281.50 C514.75,284.88 514.59,286.50 513.00,293.75 C511.41,301.00 508.50,314.50 504.75,325.00 C501.00,335.50 493.49,349.25 490.50,356.75 C487.51,364.25 487.58,365.79 486.80,370.00 C486.02,374.21 485.85,378.17 485.80,382.00 C485.75,385.83 487.01,385.83 486.50,393.00 C485.99,400.17 484.12,414.75 482.75,425.00 C481.38,435.25 479.04,449.58 478.30,454.50" fill="none" stroke="#e01b28" stroke-width="3.5" stroke-linecap="round"/>
<g text-rendering="geometricPrecision" font-family="'Liberation Sans',Arial,sans-serif">
<text x="486" y="257" font-size="10.3" fill="#cb1a27" font-weight="bold" textLength="61.25" lengthAdjust="spacingAndGlyphs" stroke="#cb1a27" stroke-width="0.7" paint-order="stroke">CHAKULIA</text>
<text x="516.75" y="328.75" font-size="10.3" fill="#cb1a27" font-weight="bold" textLength="39.25" lengthAdjust="spacingAndGlyphs" stroke="#cb1a27" stroke-width="0.7" paint-order="stroke">BOROL</text>
<text x="502.75" y="360.5" font-size="10.3" fill="#cb1a27" font-weight="bold" textLength="80.75" lengthAdjust="spacingAndGlyphs" stroke="#cb1a27" stroke-width="0.7" paint-order="stroke">BAHARAGORA</text>
<text x="499.25" y="397" font-size="10.3" fill="#cb1a27" font-weight="bold" textLength="93.00" lengthAdjust="spacingAndGlyphs" stroke="#cb1a27" stroke-width="0.7" paint-order="stroke">NEW JAMSHOLA</text>
<text x="494" y="430.5" font-size="10.3" fill="#cb1a27" font-weight="bold" textLength="90.75" lengthAdjust="spacingAndGlyphs" stroke="#cb1a27" stroke-width="0.7" paint-order="stroke">JHARAPAKARIA</text>
<text x="491" y="458" font-size="10.3" fill="#cb1a27" font-weight="bold" textLength="64.50" lengthAdjust="spacingAndGlyphs" stroke="#cb1a27" stroke-width="0.7" paint-order="stroke">BURAMARA</text>
<text transform="translate(525.5,298) rotate(16.7)" x="0" y="0" font-size="10.3" fill="#cb1a27" font-weight="bold" textLength="63.70" lengthAdjust="spacingAndGlyphs" stroke="#cb1a27" stroke-width="0.7" paint-order="stroke">PURHAPANI</text>
</g>
</g>
</svg>
</body></html>
